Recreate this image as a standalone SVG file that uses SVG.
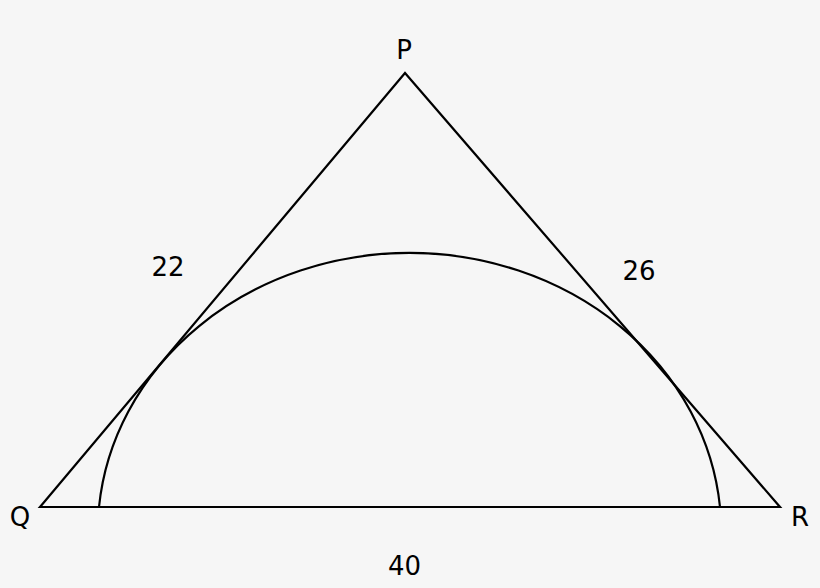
<svg xmlns="http://www.w3.org/2000/svg" width="820" height="588" viewBox="0 0 820 588">
<style>
.ln{fill:none;stroke:#000;stroke-width:2.2;stroke-linejoin:miter}
.lb{font-family:"DejaVu Sans",sans-serif;font-size:26px;fill:#000;text-anchor:middle}
</style>
<rect width="820" height="588" fill="#f6f6f6"/>
<g id="connectors">
<path id="triangle" class="ln" d="M40 507 L405 73 L780 507 Z"/>
<path id="arc" class="ln" d="M99 507 A311.75 279 0 0 1 720 507"/>
</g>
<g id="P"><text class="lb" x="404" y="59">P</text></g>
<g id="Q"><text class="lb" x="20" y="526">Q</text></g>
<g id="R"><text class="lb" x="800" y="526">R</text></g>
<g id="side-PQ"><text class="lb" x="168" y="276">22</text></g>
<g id="side-PR"><text class="lb" x="639" y="280">26</text></g>
<g id="side-QR"><text class="lb" x="404.5" y="575">40</text></g>
</svg>
